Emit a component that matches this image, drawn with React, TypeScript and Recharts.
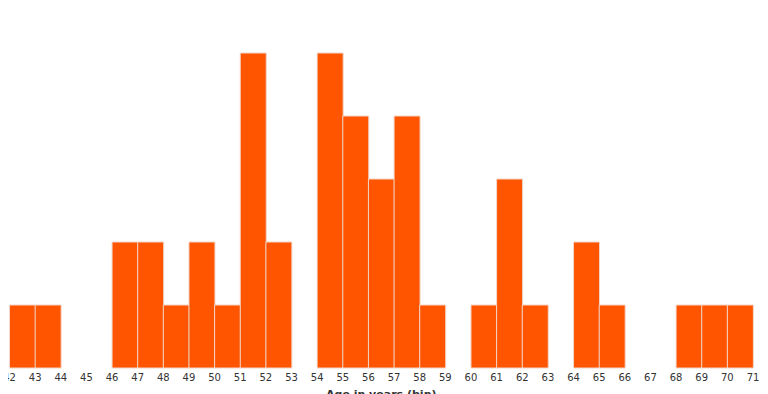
import React from 'react';
import { BarChart, Bar, XAxis, YAxis } from 'recharts';

const binStarts = [42, 43, 44, 45, 46, 47, 48, 49, 50, 51, 52, 53, 54, 55, 56, 57, 58, 59, 60, 61, 62, 63, 64, 65, 66, 67, 68, 69, 70];
const counts = [1, 1, 0, 0, 2, 2, 1, 2, 1, 5, 2, 0, 5, 4, 3, 4, 1, 0, 1, 3, 1, 0, 2, 1, 0, 0, 1, 1, 1];
const tickLabels = [42, 43, 44, 45, 46, 47, 48, 49, 50, 51, 52, 53, 54, 55, 56, 57, 58, 59, 60, 61, 62, 63, 64, 65, 66, 67, 68, 69, 70, 71];

const data = binStarts.map((s, i) => ({ mid: s + 0.5, count: counts[i] }));

export default function App() {
  return (
    <div style={{ margin: '-8px 0 0 -8px', width: 768, height: 394, overflow: 'hidden' }}>
      <BarChart
        width={768}
        height={394}
        data={data}
        margin={{ top: 53, right: 15, bottom: 0, left: 9.5 }}
        barCategoryGap={0}
        barGap={0}
      >
        <XAxis
          dataKey="mid"
          type="number"
          domain={[42, 71]}
          ticks={tickLabels}
          interval={0}
          axisLine={false}
          tickLine={false}
          tickSize={6}
          tickMargin={0}
          height={26}
          tick={{ fontSize: 10, fill: '#333', fontFamily: 'DejaVu Sans, sans-serif' }}
          label={{
            value: 'Age in years (bin)',
            position: 'insideBottom',
            offset: -4,
            style: { fontSize: 11, fontWeight: 'bold', fill: '#333', fontFamily: 'DejaVu Sans, sans-serif' },
          }}
        />
        <YAxis hide domain={[0, 5]} />
        <Bar
          dataKey="count"
          fill="#ff5500"
          stroke="#f2d6c8"
          strokeWidth={1}
          isAnimationActive={false}
        />
      </BarChart>
    </div>
  );
}
